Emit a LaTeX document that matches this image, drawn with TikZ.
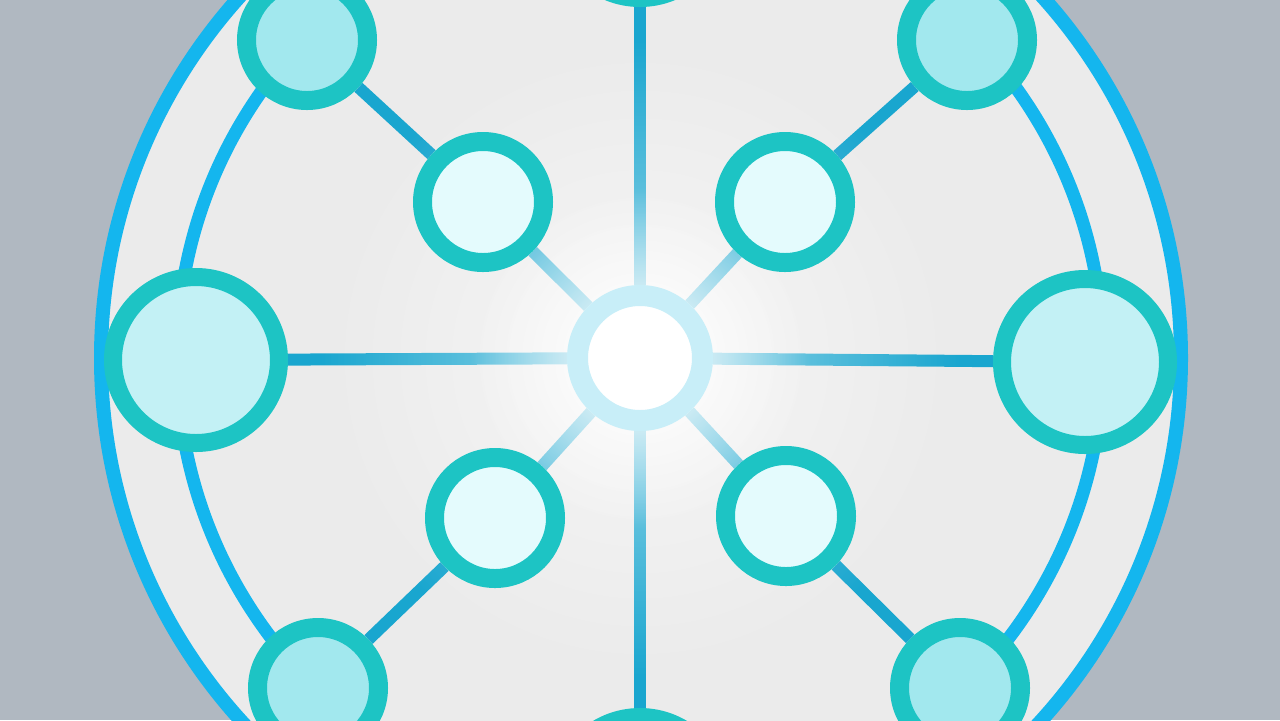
\documentclass[tikz,border=0pt]{standalone}
\usetikzlibrary{positioning,backgrounds,fadings}

\definecolor{bggrey}{HTML}{B0B8C1}
\definecolor{discgrey}{HTML}{EBEBEB}
\definecolor{rimblue}{HTML}{14B6EE}
\definecolor{linkblue}{HTML}{19A6CF}
\definecolor{ringteal}{HTML}{1DC4C4}
\definecolor{hubring}{HTML}{C8EEF8}
\definecolor{innerfill}{HTML}{E4FBFD}
\definecolor{bigfill}{HTML}{C3F1F5}
\definecolor{cornerfill}{HTML}{A2E8EE}

\tikzfading[name=glowfade, inner color=transparent!0, outer color=transparent!100]

\begin{document}
\begin{tikzpicture}[
    x=0.5pt, y=-0.5pt,
    hub/.style={circle, draw=hubring, line width=10.5pt, fill=white, inner sep=0pt, minimum size=62.5pt},
    small/.style={circle, draw=ringteal, line width=9.5pt, fill=innerfill, inner sep=0pt, minimum size=60.5pt},
    corner/.style={small, fill=cornerfill},
    big/.style={circle, draw=ringteal, line width=9pt, fill=bigfill, inner sep=0pt, minimum size=83pt},
    link/.style={draw=linkblue, line width=6pt},
    rim/.style={draw=rimblue, line width=7pt}
]

\useasboundingbox (0,0) rectangle (1280,720);

% Central hub
\node[hub] (hub) at (640,358) {};

% Inner ring of nodes
\node[small] (nw_small) at (483,202) {};
\node[small] (ne_small) at (785,202) {};
\node[small] (sw_small) at (495,518) {};
\node[small] (se_small) at (786,516) {};

% Corner nodes
\node[corner] (tl_corner) at (307,40) {};
\node[corner] (tr_corner) at (967,40) {};
\node[corner] (bl_corner) at (318,688) {};
\node[corner] (br_corner) at (960,688) {};

% Large nodes on the axes
\node[big] (left_big) at (196,360) {};
\node[big] (right_big) at (1085,362) {};
\node[big] (top_big) at (640,-85) {};
\node[big] (bottom_big) at (640,800) {};

\begin{scope}[on background layer]
    % Backdrop and disc
    \fill[bggrey] (0,0) rectangle (1280,720);
    \fill[discgrey] (641,358) circle (540);
    \draw[rim] (641,358) circle (540);
    \draw[rim, line width=6.5pt] (640,358) circle (463);

    % Spokes from the hub
    \draw[link] (hub) -- (top_big);
    \draw[link] (hub) -- (bottom_big);
    \draw[link] (hub) -- (left_big);
    \draw[link] (hub) -- (right_big);
    \draw[link] (hub) -- (nw_small);
    \draw[link] (hub) -- (ne_small);
    \draw[link] (hub) -- (sw_small);
    \draw[link] (hub) -- (se_small);

    % Inner to corner
    \draw[link] (nw_small) -- (tl_corner);
    \draw[link] (ne_small) -- (tr_corner);
    \draw[link] (sw_small) -- (bl_corner);
    \draw[link] (se_small) -- (br_corner);

    % Glow round the hub
    \fill[white, opacity=0.6, path fading=glowfade] (hub.center) circle (320);
    \fill[white, path fading=glowfade] (hub.center) circle (170);
\end{scope}

\end{tikzpicture}
\end{document}
